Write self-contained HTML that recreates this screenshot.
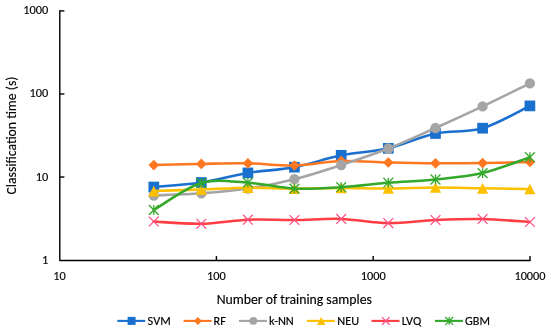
<!DOCTYPE html>
<html><head><meta charset="utf-8"><title>Classification time</title>
<style>
html,body{margin:0;padding:0;background:#fff;}
body{width:550px;height:331px;overflow:hidden;}
svg{display:block;}
.t{font-family:"Carlito","Liberation Sans",sans-serif;font-size:12.3px;fill:#000;stroke:#000;stroke-width:0.15px;}
.ti{font-family:"Carlito","Liberation Sans",sans-serif;font-size:13.75px;fill:#000;stroke:#000;stroke-width:0.15px;}
</style></head><body>
<svg width="550" height="331" viewBox="0 0 550 331">
<rect width="550" height="331" fill="#fff"/>
<path d="M59.8,10.2 L59.8,260.45 L530.6,260.45" fill="none" stroke="#000" stroke-width="1.4" stroke-linejoin="round"/>
<line x1="59.8" y1="177.03" x2="64.4" y2="177.03" stroke="#000" stroke-width="1.4"/>
<line x1="216.4" y1="260.45" x2="216.4" y2="256.05" stroke="#000" stroke-width="1.4"/>
<line x1="59.8" y1="93.97" x2="64.4" y2="93.97" stroke="#000" stroke-width="1.4"/>
<line x1="373.2" y1="260.45" x2="373.2" y2="256.05" stroke="#000" stroke-width="1.4"/>
<line x1="59.8" y1="10.9" x2="64.4" y2="10.9" stroke="#000" stroke-width="1.4"/>
<line x1="530" y1="260.45" x2="530" y2="256.05" stroke="#000" stroke-width="1.4"/>
<text x="48.2" y="263.6" class="t" text-anchor="end" textLength="6.234" lengthAdjust="spacingAndGlyphs">1</text>
<text x="48.2" y="180.53" class="t" text-anchor="end" textLength="12.469" lengthAdjust="spacingAndGlyphs">10</text>
<text x="48.2" y="97.47" class="t" text-anchor="end" textLength="18.703" lengthAdjust="spacingAndGlyphs">100</text>
<text x="48.2" y="14.4" class="t" text-anchor="end" textLength="24.938" lengthAdjust="spacingAndGlyphs">1000</text>
<text x="59.6" y="280.4" class="t" text-anchor="middle" textLength="12.469" lengthAdjust="spacingAndGlyphs">10</text>
<text x="216.4" y="280.4" class="t" text-anchor="middle" textLength="18.703" lengthAdjust="spacingAndGlyphs">100</text>
<text x="373.2" y="280.4" class="t" text-anchor="middle" textLength="24.938" lengthAdjust="spacingAndGlyphs">1000</text>
<text x="530" y="280.4" class="t" text-anchor="middle" textLength="31.172" lengthAdjust="spacingAndGlyphs">10000</text>
<text class="ti" x="294.3" y="303.9" text-anchor="middle" textLength="155.203" lengthAdjust="spacingAndGlyphs">Number of training samples</text>
<text class="ti" transform="translate(15.7,135.5) rotate(-90)" text-anchor="middle" textLength="117.984" lengthAdjust="spacingAndGlyphs">Classification time (s)</text>
<path d="M153.8,187 C161.72,186.25 185.62,184.85 201.3,182.5 C216.98,180.15 232.38,175.45 247.9,172.9 C263.42,170.35 278.85,170.13 294.4,167.2 C309.95,164.27 325.55,158.45 341.2,155.3 C356.85,152.15 372.58,151.93 388.3,148.3 C404.02,144.67 419.78,136.85 435.5,133.5 C451.22,130.15 466.87,132.8 482.6,128.2 C498.33,123.6 522.02,109.62 529.9,105.9" fill="none" stroke="#1A70CF" stroke-width="2.55" stroke-linecap="round" stroke-linejoin="round"/>
<rect x="148.45" y="181.65" width="10.7" height="10.7" fill="#1A70CF"/>
<rect x="195.95" y="177.15" width="10.7" height="10.7" fill="#1A70CF"/>
<rect x="242.55" y="167.55" width="10.7" height="10.7" fill="#1A70CF"/>
<rect x="289.05" y="161.85" width="10.7" height="10.7" fill="#1A70CF"/>
<rect x="335.85" y="149.95" width="10.7" height="10.7" fill="#1A70CF"/>
<rect x="382.95" y="142.95" width="10.7" height="10.7" fill="#1A70CF"/>
<rect x="430.15" y="128.15" width="10.7" height="10.7" fill="#1A70CF"/>
<rect x="477.25" y="122.85" width="10.7" height="10.7" fill="#1A70CF"/>
<rect x="524.55" y="100.55" width="10.7" height="10.7" fill="#1A70CF"/>
<path d="M153.8,165.1 C161.72,164.9 185.62,164.2 201.3,163.9 C216.98,163.6 232.38,163.03 247.9,163.3 C263.42,163.57 278.85,165.88 294.4,165.5 C309.95,165.12 325.55,161.5 341.2,161 C356.85,160.5 372.58,162.12 388.3,162.5 C404.02,162.88 419.78,163.2 435.5,163.3 C451.22,163.4 466.87,163.32 482.6,163.1 C498.33,162.88 522.02,162.18 529.9,162" fill="none" stroke="#FF7821" stroke-width="2.55" stroke-linecap="round" stroke-linejoin="round"/>
<path d="M153.8,159.75 L159.15,165.1 L153.8,170.45 L148.45,165.1 Z" fill="#FF7821"/>
<path d="M201.3,158.55 L206.65,163.9 L201.3,169.25 L195.95,163.9 Z" fill="#FF7821"/>
<path d="M247.9,157.95 L253.25,163.3 L247.9,168.65 L242.55,163.3 Z" fill="#FF7821"/>
<path d="M294.4,160.15 L299.75,165.5 L294.4,170.85 L289.05,165.5 Z" fill="#FF7821"/>
<path d="M341.2,155.65 L346.55,161 L341.2,166.35 L335.85,161 Z" fill="#FF7821"/>
<path d="M388.3,157.15 L393.65,162.5 L388.3,167.85 L382.95,162.5 Z" fill="#FF7821"/>
<path d="M435.5,157.95 L440.85,163.3 L435.5,168.65 L430.15,163.3 Z" fill="#FF7821"/>
<path d="M482.6,157.75 L487.95,163.1 L482.6,168.45 L477.25,163.1 Z" fill="#FF7821"/>
<path d="M529.9,156.65 L535.25,162 L529.9,167.35 L524.55,162 Z" fill="#FF7821"/>
<path d="M153.8,195.5 C161.72,195.13 185.62,194.47 201.3,193.3 C216.98,192.13 232.38,190.85 247.9,188.5 C263.42,186.15 278.85,183.12 294.4,179.2 C309.95,175.28 325.55,170.12 341.2,165 C356.85,159.88 372.58,154.67 388.3,148.5 C404.02,142.33 419.78,135.02 435.5,128 C451.22,120.98 466.87,113.83 482.6,106.4 C498.33,98.97 522.02,87.23 529.9,83.4" fill="none" stroke="#A5A5A5" stroke-width="2.55" stroke-linecap="round" stroke-linejoin="round"/>
<circle cx="153.8" cy="195.5" r="5.14" fill="#A5A5A5"/>
<circle cx="201.3" cy="193.3" r="5.14" fill="#A5A5A5"/>
<circle cx="247.9" cy="188.5" r="5.14" fill="#A5A5A5"/>
<circle cx="294.4" cy="179.2" r="5.14" fill="#A5A5A5"/>
<circle cx="341.2" cy="165" r="5.14" fill="#A5A5A5"/>
<circle cx="388.3" cy="148.5" r="5.14" fill="#A5A5A5"/>
<circle cx="435.5" cy="128" r="5.14" fill="#A5A5A5"/>
<circle cx="482.6" cy="106.4" r="5.14" fill="#A5A5A5"/>
<circle cx="529.9" cy="83.4" r="5.14" fill="#A5A5A5"/>
<path d="M153.8,191.1 C161.72,190.83 185.62,190.07 201.3,189.5 C216.98,188.93 232.38,187.85 247.9,187.7 C263.42,187.55 278.85,188.57 294.4,188.6 C309.95,188.63 325.55,187.92 341.2,187.9 C356.85,187.88 372.58,188.57 388.3,188.5 C404.02,188.43 419.78,187.53 435.5,187.5 C451.22,187.47 466.87,188.05 482.6,188.3 C498.33,188.55 522.02,188.88 529.9,189" fill="none" stroke="#FFC000" stroke-width="2.55" stroke-linecap="round" stroke-linejoin="round"/>
<path d="M153.8,185.75 L159.42,196.45 L148.18,196.45 Z" fill="#FFC000"/>
<path d="M201.3,184.15 L206.92,194.85 L195.68,194.85 Z" fill="#FFC000"/>
<path d="M247.9,182.35 L253.52,193.05 L242.28,193.05 Z" fill="#FFC000"/>
<path d="M294.4,183.25 L300.02,193.95 L288.78,193.95 Z" fill="#FFC000"/>
<path d="M341.2,182.55 L346.82,193.25 L335.58,193.25 Z" fill="#FFC000"/>
<path d="M388.3,183.15 L393.92,193.85 L382.68,193.85 Z" fill="#FFC000"/>
<path d="M435.5,182.15 L441.12,192.85 L429.88,192.85 Z" fill="#FFC000"/>
<path d="M482.6,182.95 L488.22,193.65 L476.98,193.65 Z" fill="#FFC000"/>
<path d="M529.9,183.65 L535.52,194.35 L524.28,194.35 Z" fill="#FFC000"/>
<path d="M153.8,221.5 C161.72,221.88 185.62,224.1 201.3,223.8 C216.98,223.5 232.38,220.33 247.9,219.7 C263.42,219.07 278.85,220.13 294.4,220 C309.95,219.87 325.55,218.38 341.2,218.9 C356.85,219.42 372.58,222.92 388.3,223.1 C404.02,223.28 419.78,220.68 435.5,220 C451.22,219.32 466.87,218.67 482.6,219 C498.33,219.33 522.02,221.5 529.9,222" fill="none" stroke="#FF3D42" stroke-width="2.55" stroke-linecap="round" stroke-linejoin="round"/>
<path d="M148.88,216.58 L158.72,226.42 M148.88,226.42 L158.72,216.58" stroke="#FF4F86" stroke-width="1.25" fill="none"/>
<path d="M196.38,218.88 L206.22,228.72 M196.38,228.72 L206.22,218.88" stroke="#FF4F86" stroke-width="1.25" fill="none"/>
<path d="M242.98,214.78 L252.82,224.62 M242.98,224.62 L252.82,214.78" stroke="#FF4F86" stroke-width="1.25" fill="none"/>
<path d="M289.48,215.08 L299.32,224.92 M289.48,224.92 L299.32,215.08" stroke="#FF4F86" stroke-width="1.25" fill="none"/>
<path d="M336.28,213.98 L346.12,223.82 M336.28,223.82 L346.12,213.98" stroke="#FF4F86" stroke-width="1.25" fill="none"/>
<path d="M383.38,218.18 L393.22,228.02 M383.38,228.02 L393.22,218.18" stroke="#FF4F86" stroke-width="1.25" fill="none"/>
<path d="M430.58,215.08 L440.42,224.92 M430.58,224.92 L440.42,215.08" stroke="#FF4F86" stroke-width="1.25" fill="none"/>
<path d="M477.68,214.08 L487.52,223.92 M477.68,223.92 L487.52,214.08" stroke="#FF4F86" stroke-width="1.25" fill="none"/>
<path d="M524.98,217.08 L534.82,226.92 M524.98,226.92 L534.82,217.08" stroke="#FF4F86" stroke-width="1.25" fill="none"/>
<path d="M153.8,210 C161.72,205.5 185.62,187.55 201.3,183 C216.98,178.45 232.38,181.77 247.9,182.7 C263.42,183.63 278.85,187.85 294.4,188.6 C309.95,189.35 325.55,188.18 341.2,187.2 C356.85,186.22 372.58,183.98 388.3,182.7 C404.02,181.42 419.78,181.1 435.5,179.5 C451.22,177.9 466.87,176.82 482.6,173.1 C498.33,169.38 522.02,159.85 529.9,157.2" fill="none" stroke="#33A82A" stroke-width="2.55" stroke-linecap="round" stroke-linejoin="round"/>
<path d="M148.88,205.08 L158.72,214.92 M148.88,214.92 L158.72,205.08 M153.8,205.08 L153.8,214.92" stroke="#33A82A" stroke-width="1.3" fill="none"/>
<path d="M196.38,178.08 L206.22,187.92 M196.38,187.92 L206.22,178.08 M201.3,178.08 L201.3,187.92" stroke="#33A82A" stroke-width="1.3" fill="none"/>
<path d="M242.98,177.78 L252.82,187.62 M242.98,187.62 L252.82,177.78 M247.9,177.78 L247.9,187.62" stroke="#33A82A" stroke-width="1.3" fill="none"/>
<path d="M289.48,183.68 L299.32,193.52 M289.48,193.52 L299.32,183.68 M294.4,183.68 L294.4,193.52" stroke="#33A82A" stroke-width="1.3" fill="none"/>
<path d="M336.28,182.28 L346.12,192.12 M336.28,192.12 L346.12,182.28 M341.2,182.28 L341.2,192.12" stroke="#33A82A" stroke-width="1.3" fill="none"/>
<path d="M383.38,177.78 L393.22,187.62 M383.38,187.62 L393.22,177.78 M388.3,177.78 L388.3,187.62" stroke="#33A82A" stroke-width="1.3" fill="none"/>
<path d="M430.58,174.58 L440.42,184.42 M430.58,184.42 L440.42,174.58 M435.5,174.58 L435.5,184.42" stroke="#33A82A" stroke-width="1.3" fill="none"/>
<path d="M477.68,168.18 L487.52,178.02 M477.68,178.02 L487.52,168.18 M482.6,168.18 L482.6,178.02" stroke="#33A82A" stroke-width="1.3" fill="none"/>
<path d="M524.98,152.28 L534.82,162.12 M524.98,162.12 L534.82,152.28 M529.9,152.28 L529.9,162.12" stroke="#33A82A" stroke-width="1.3" fill="none"/>
<line x1="117.3" y1="320.9" x2="145.3" y2="320.9" stroke="#1A70CF" stroke-width="2.1"/>
<rect x="127.6" y="316.9" width="8" height="8" fill="#1A70CF"/>
<text x="147.6" y="325.1" class="t" textLength="23.063" lengthAdjust="spacingAndGlyphs">SVM</text>
<line x1="183.6" y1="320.9" x2="211.6" y2="320.9" stroke="#FF7821" stroke-width="2.1"/>
<path d="M197.9,316.9 L201.9,320.9 L197.9,324.9 L193.9,320.9 Z" fill="#FF7821"/>
<text x="213.6" y="325.1" class="t" textLength="12.328" lengthAdjust="spacingAndGlyphs">RF</text>
<line x1="239" y1="320.9" x2="267" y2="320.9" stroke="#A5A5A5" stroke-width="2.1"/>
<circle cx="253.3" cy="320.9" r="3.84" fill="#A5A5A5"/>
<text x="269" y="325.1" class="t" textLength="24.781" lengthAdjust="spacingAndGlyphs">k-NN</text>
<line x1="306.9" y1="320.9" x2="334.9" y2="320.9" stroke="#FFC000" stroke-width="2.1"/>
<path d="M321.2,316.9 L325.4,324.9 L317,324.9 Z" fill="#FFC000"/>
<text x="337.3" y="325.1" class="t" textLength="21.844" lengthAdjust="spacingAndGlyphs">NEU</text>
<line x1="371.5" y1="320.9" x2="399.5" y2="320.9" stroke="#FF3D42" stroke-width="2.1"/>
<path d="M381.98,317.08 L389.62,324.72 M381.98,324.72 L389.62,317.08" stroke="#FF4F86" stroke-width="1.25" fill="none"/>
<text x="401.8" y="325.1" class="t" textLength="19.391" lengthAdjust="spacingAndGlyphs">LVQ</text>
<line x1="434.9" y1="320.9" x2="462.9" y2="320.9" stroke="#33A82A" stroke-width="2.1"/>
<path d="M445.24,316.94 L453.16,324.86 M445.24,324.86 L453.16,316.94 M449.2,316.94 L449.2,324.86" stroke="#33A82A" stroke-width="1.3" fill="none"/>
<text x="465.1" y="325.1" class="t" textLength="24.969" lengthAdjust="spacingAndGlyphs">GBM</text>
</svg>
</body></html>
